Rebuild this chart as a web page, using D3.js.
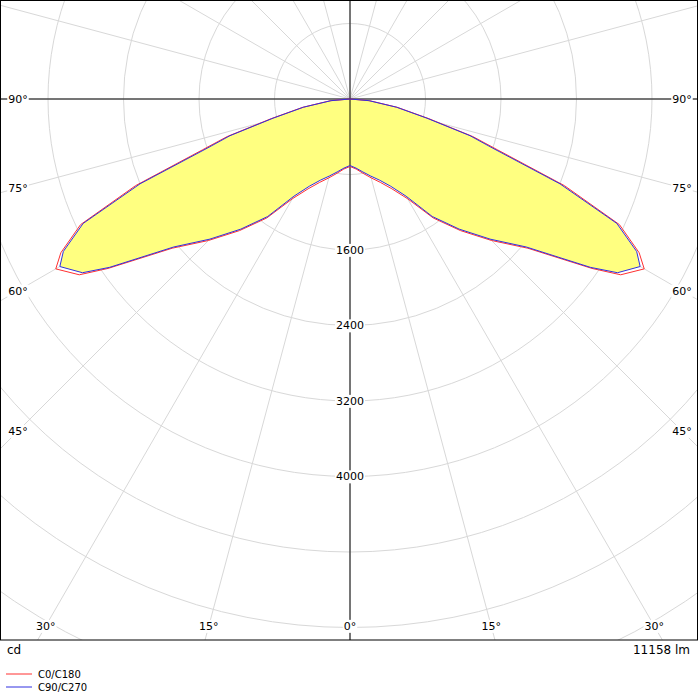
<!DOCTYPE html>
<html><head><meta charset="utf-8">
<script src="https://cdn.jsdelivr.net/npm/d3@7"></script>
<style>body{margin:0;background:#fff}text{font-family:Tahoma,"DejaVu Sans",sans-serif;font-size:11px}</style>
</head><body><svg id="chart" width="700" height="700"></svg>
<script>
var angles = [0, 5, 10, 15, 20, 25, 30, 35, 40, 45, 50, 55, 57, 60, 62, 65, 68, 71, 73, 76, 80, 85, 90];
var c0c180 = [715, 745, 800, 865, 940, 1050, 1220, 1540, 1820, 2120, 2460, 3130, 3420, 3600, 3470, 3150, 2450, 1650, 1360, 860, 510, 210, 0];
var c90c270 = [705, 735, 785, 845, 915, 1020, 1190, 1520, 1800, 2100, 2440, 3110, 3380, 3550, 3440, 3120, 2400, 1600, 1330, 840, 500, 200, 0];
var ringValues = [800, 1600, 2400, 3200, 4000, 4800, 5600, 6400, 7200];
var ringLabels = [1600, 2400, 3200, 4000];
var sideTicks = [90, 75, 60, 45];
var bottomTicks = [30, 15, 0];

var W = 698, H = 640, cx = 350, cy = 99;
var svg = d3.select("#chart");
var r = d3.scaleLinear().domain([0, 800]).range([0, 75.5]);

svg.append("clipPath").attr("id", "clip").append("rect").attr("width", W).attr("height", H);
var g = svg.append("g").attr("clip-path", "url(#clip)");

// rings
g.selectAll(".ring").data(ringValues).enter().append("circle")
    .attr("cx", cx).attr("cy", cy).attr("r", function (d) { return r(d); })
    .attr("fill", "none").attr("stroke", "#d8d8d8");
// radial lines every 15 deg
g.selectAll(".spoke").data(d3.range(0, 360, 15)).enter().append("line")
    .attr("x1", cx).attr("y1", cy)
    .attr("x2", function (d) { return cx + 1200 * Math.sin(d * Math.PI / 180); })
    .attr("y2", function (d) { return cy + 1200 * Math.cos(d * Math.PI / 180); })
    .attr("stroke", "#d8d8d8");

function pts(vals) {
    var right = angles.map(function (a, i) { return [a, vals[i]]; });
    var left = angles.slice().reverse().map(function (a, i) { return [-a, vals[vals.length - 1 - i]]; });
    return left.concat(right.slice(1));
}
var line = d3.line()
    .x(function (d) { return cx + r(d[1]) * Math.sin(d[0] * Math.PI / 180); })
    .y(function (d) { return cy + r(d[1]) * Math.cos(d[0] * Math.PI / 180); });

g.append("path").attr("d", line(pts(c90c270)) + "Z").attr("fill", "#ffff80");

// axes
g.append("line").attr("x1", 0).attr("x2", W).attr("y1", cy).attr("y2", cy).attr("stroke", "#000");
g.append("line").attr("x1", cx).attr("x2", cx).attr("y1", 0).attr("y2", H).attr("stroke", "#000");

g.append("path").attr("d", line(pts(c0c180))).attr("fill", "none").attr("stroke", "#ff3030");
g.append("path").attr("d", line(pts(c90c270))).attr("fill", "none").attr("stroke", "#3030e0");

function label(x, y, t) {
    var tx = svg.append("text").attr("x", x).attr("y", y).attr("dy", "0.35em")
        .attr("text-anchor", "middle").text(t);
    var b = tx.node().getBBox();
    svg.insert("rect", function () { return tx.node(); })
        .attr("x", b.x - 1).attr("y", b.y).attr("width", b.width + 2).attr("height", b.height).attr("fill", "#fff");
}
ringLabels.forEach(function (v) { label(cx, cy + r(v), v); });
sideTicks.forEach(function (a) {
    var dy = a === 90 ? 0 : 332 / Math.tan(a * Math.PI / 180);
    label(18, cy + dy, a + "°");
    label(682, cy + dy, a + "°");
});
bottomTicks.forEach(function (a) {
    var dx = 527 * Math.tan(a * Math.PI / 180);
    label(cx - dx, 626, a + "°");
    if (a) { label(cx + dx, 626, a + "°"); }
});

svg.append("rect").attr("x", 0.5).attr("y", 0.5).attr("width", W - 1).attr("height", H - 0.5)
    .attr("fill", "none").attr("stroke", "#000");

svg.append("text").attr("x", 7).attr("y", 654).text("cd").style("font-size", "12px");
svg.append("text").attr("x", 690).attr("y", 654).attr("text-anchor", "end").text("11158 lm").style("font-size", "12px");

var legend = [["C0/C180", "#ff3030"], ["C90/C270", "#3030e0"]];
legend.forEach(function (d, i) {
    var y = 674 + i * 13;
    svg.append("line").attr("x1", 6).attr("x2", 32).attr("y1", y).attr("y2", y).attr("stroke", d[1]);
    svg.append("text").attr("x", 38).attr("y", y).attr("dy", "0.35em").text(d[0]).style("font-size", "10px");
});
</script></body></html>
